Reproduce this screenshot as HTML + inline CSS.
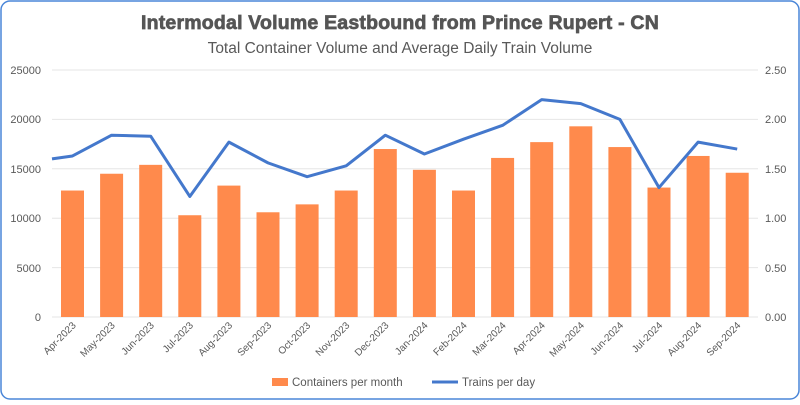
<!DOCTYPE html>
<html><head><meta charset="utf-8"><style>
body{margin:0;width:800px;height:400px;background:#fff;overflow:hidden}
</style></head><body>
<svg width="800" height="400" xmlns="http://www.w3.org/2000/svg" font-family="Liberation Sans, sans-serif">
<rect x="1" y="1" width="798" height="398" rx="9" fill="#fff" stroke="#4a86d8" stroke-width="1.5"/>
<text x="400" y="29" text-anchor="middle" font-size="19.5" font-weight="bold" fill="#555" stroke="#555" stroke-width="0.7" letter-spacing="0.2">Intermodal Volume Eastbound from Prince Rupert - CN</text>
<text x="400" y="53" text-anchor="middle" font-size="15.5" fill="#595959">Total Container Volume and Average Daily Train Volume</text>
<g stroke="#e6e6e6" stroke-width="1">
<line x1="52" x2="758" y1="70" y2="70"/><line x1="52" x2="758" y1="119.4" y2="119.4"/><line x1="52" x2="758" y1="168.8" y2="168.8"/><line x1="52" x2="758" y1="218.2" y2="218.2"/><line x1="52" x2="758" y1="267.6" y2="267.6"/><line x1="52" x2="758" y1="317" y2="317"/>
</g>
<g font-size="11" fill="#595959" text-anchor="end">
<text x="41" y="74">25000</text><text x="41" y="123">20000</text><text x="41" y="173">15000</text><text x="41" y="222">10000</text><text x="41" y="272">5000</text><text x="41" y="321">0</text>
</g>
<g font-size="11" fill="#595959" text-anchor="start">
<text x="765" y="74">2.50</text><text x="765" y="123">2.00</text><text x="765" y="173">1.50</text><text x="765" y="222">1.00</text><text x="765" y="272">0.50</text><text x="765" y="321">0.00</text>
</g>
<g id="bars" fill="#ff8a4c"></g>
<polyline id="line" fill="none" stroke="#4478cc" stroke-width="3" stroke-linejoin="round"/>
<g id="xl" font-size="10" fill="#595959"></g>
<rect x="272" y="378" width="16" height="8" fill="#ff8a4c"/>
<text x="292" y="386" font-size="11.5" fill="#595959">Containers per month</text>
<line x1="432" x2="458" y1="382" y2="382" stroke="#4478cc" stroke-width="3"/>
<text x="462" y="386" font-size="11.5" fill="#595959">Trains per day</text>
</svg>
<script>
var b=[12800,14500,15400,10300,13300,10600,11400,12800,17000,14900,12800,16100,17700,19300,17200,13100,16300,14600];
var t=[1.63,1.84,1.83,1.22,1.77,1.56,1.42,1.53,1.84,1.65,1.80,1.94,2.20,2.16,2.00,1.31,1.77,1.70];
var l=["Apr-2023","May-2023","Jun-2023","Jul-2023","Aug-2023","Sep-2023","Oct-2023","Nov-2023","Dec-2023","Jan-2024","Feb-2024","Mar-2024","Apr-2024","May-2024","Jun-2024","Jul-2024","Aug-2024","Sep-2024"];
var ns="http://www.w3.org/2000/svg",g=document.getElementById("bars"),xl=document.getElementById("xl");
var pts=["52,"+(317-1.60*98.8)];
for(var i=0;i<18;i++){var c=72.5+i*39.1;var h=b[i]*0.00988;
var r=document.createElementNS(ns,"rect");r.setAttribute("x",c-11.5);r.setAttribute("y",317-h);r.setAttribute("width",23);r.setAttribute("height",h);g.appendChild(r);
pts.push(c+","+(317-t[i]*98.8));
var tx=document.createElementNS(ns,"text");tx.setAttribute("text-anchor","end");tx.setAttribute("transform","translate("+(c+4)+",326) rotate(-45)");tx.textContent=l[i];xl.appendChild(tx);}
document.getElementById("line").setAttribute("points",pts.join(" "));
</script>
</body></html>
